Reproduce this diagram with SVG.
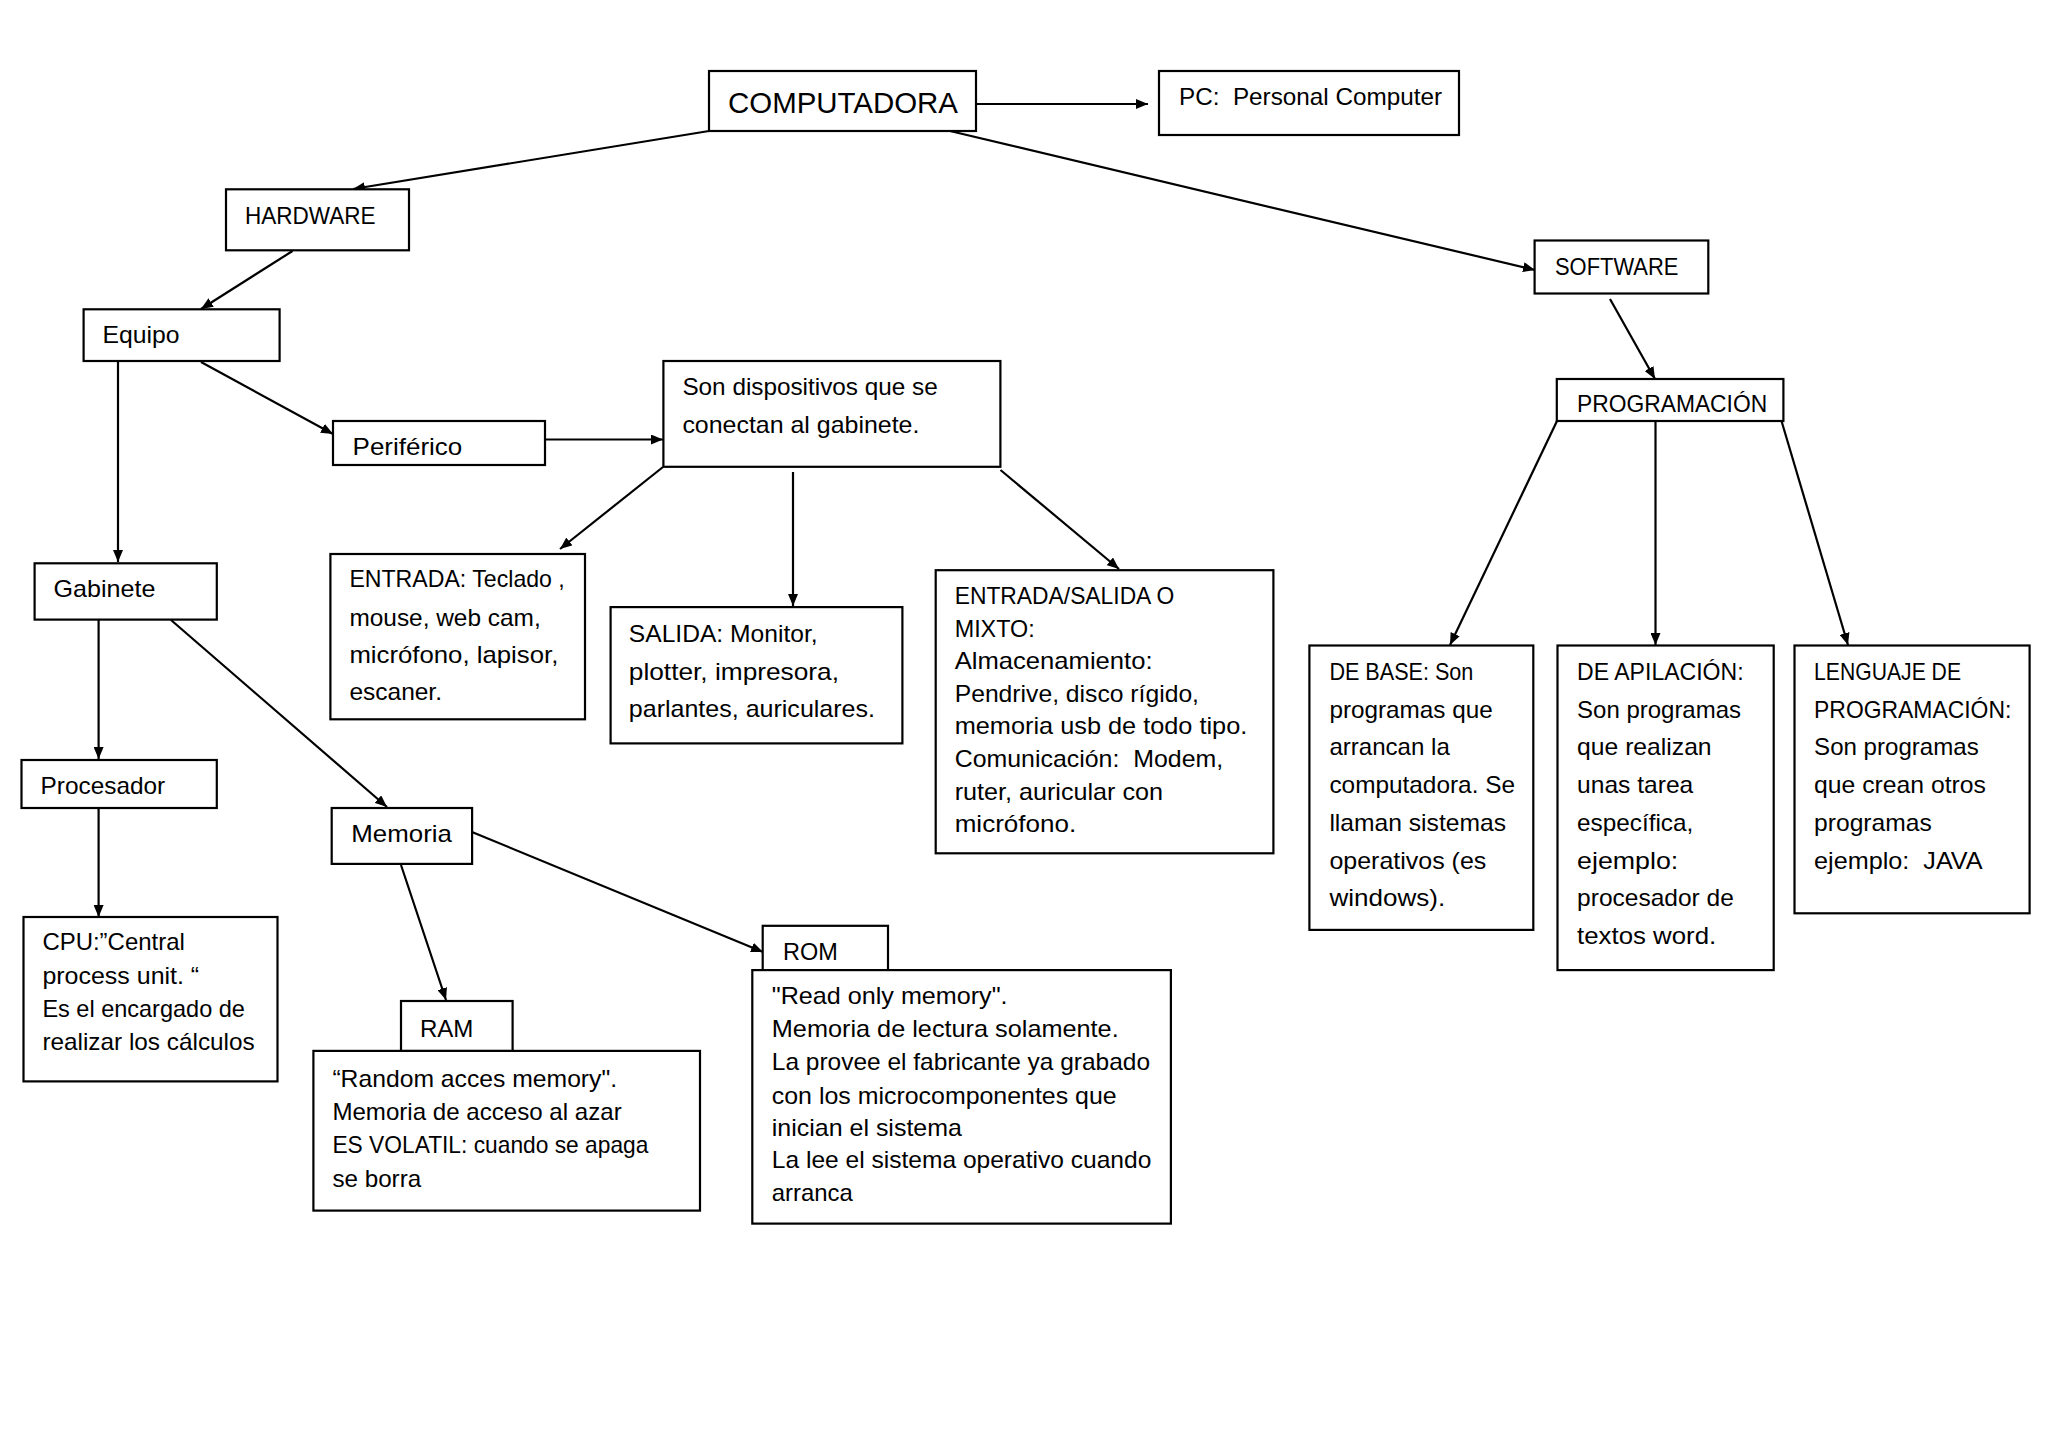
<svg xmlns="http://www.w3.org/2000/svg" width="2048" height="1448" viewBox="0 0 2048 1448">
<style>
.b{fill:#fff;stroke:#000;stroke-width:2.2}
.c{fill:none;stroke:#000;stroke-width:2.2;marker-end:url(#ah)}
text{font-family:"Liberation Sans",Arial,sans-serif;font-size:24px;fill:#000;white-space:pre}
.big{font-size:30px}
</style>
<defs>
<marker id="ah" markerUnits="userSpaceOnUse" markerWidth="12" markerHeight="10" refX="12" refY="5" orient="auto"><path d="M0,0 L12,5 L0,10 z" fill="#000"/></marker>
</defs>
<rect width="2048" height="1448" fill="#fff"/>
<g id="connectors">
<line class="c" x1="976" y1="104" x2="1148" y2="104"/>
<line class="c" x1="709" y1="131" x2="353" y2="189"/>
<line class="c" x1="950" y1="131" x2="1535" y2="270"/>
<line class="c" x1="292.5" y1="251" x2="201" y2="309"/>
<line class="c" x1="201" y1="362" x2="333" y2="434"/>
<line class="c" x1="545" y1="439.5" x2="663" y2="439.5"/>
<line class="c" x1="118" y1="362" x2="118" y2="562"/>
<line class="c" x1="663" y1="467" x2="560" y2="549"/>
<line class="c" x1="793" y1="472" x2="793" y2="606"/>
<line class="c" x1="1000.5" y1="470" x2="1119" y2="569"/>
<line class="c" x1="1610" y1="299" x2="1655" y2="379"/>
<line class="c" x1="1557" y1="421" x2="1450" y2="645"/>
<line class="c" x1="1655.5" y1="421" x2="1655.5" y2="645"/>
<line class="c" x1="1781.5" y1="421" x2="1848" y2="645"/>
<line class="c" x1="98.6" y1="620" x2="98.6" y2="759"/>
<line class="c" x1="171" y1="620" x2="387" y2="807"/>
<line class="c" x1="98.6" y1="808" x2="98.6" y2="917"/>
<line class="c" x1="401" y1="865" x2="446" y2="1000"/>
<line class="c" x1="472" y1="832" x2="763" y2="952"/>
</g>
<g id="computadora"><rect class="b" x="709" y="71" width="267" height="60"/><text class="big" x="728" y="113" textLength="230" lengthAdjust="spacingAndGlyphs">COMPUTADORA</text></g>
<g id="pc"><rect class="b" x="1159" y="71" width="300" height="64"/><text x="1179" y="105.3" textLength="263" lengthAdjust="spacingAndGlyphs">PC:&#160; Personal Computer</text></g>
<g id="hardware"><rect class="b" x="226" y="189.3" width="183" height="61"/><text x="245" y="224" textLength="130.5" lengthAdjust="spacingAndGlyphs">HARDWARE</text></g>
<g id="software"><rect class="b" x="1534.6" y="240.5" width="173.7" height="53"/><text x="1555" y="274.7" textLength="123.4" lengthAdjust="spacingAndGlyphs">SOFTWARE</text></g>
<g id="equipo"><rect class="b" x="83.6" y="309.3" width="196" height="51.7"/><text x="102.5" y="342.6" textLength="77" lengthAdjust="spacingAndGlyphs">Equipo</text></g>
<g id="periferico"><rect class="b" x="333" y="421" width="212" height="44"/><text x="352.6" y="454.8" textLength="109.7" lengthAdjust="spacingAndGlyphs">Periférico</text></g>
<g id="dispositivos"><rect class="b" x="663.4" y="361" width="337" height="105.8"/>
<text x="682.4" y="394.7" textLength="255.3" lengthAdjust="spacingAndGlyphs">Son dispositivos que se</text>
<text x="682.4" y="433" textLength="237" lengthAdjust="spacingAndGlyphs">conectan al gabinete.</text></g>
<g id="programacion"><rect class="b" x="1556.8" y="379" width="226.6" height="42"/><text x="1577.1" y="412.3" textLength="190" lengthAdjust="spacingAndGlyphs">PROGRAMACIÓN</text></g>
<g id="gabinete"><rect class="b" x="34.6" y="563.3" width="182.2" height="56.3"/><text x="53.5" y="596.5" textLength="101.9" lengthAdjust="spacingAndGlyphs">Gabinete</text></g>
<g id="entrada"><rect class="b" x="330.4" y="554" width="254.6" height="165.3"/>
<text x="349.4" y="587.3" textLength="215.4" lengthAdjust="spacingAndGlyphs">ENTRADA: Teclado ,</text>
<text x="349.4" y="625.6" textLength="191.3" lengthAdjust="spacingAndGlyphs">mouse, web cam,</text>
<text x="349.4" y="663" textLength="208.9" lengthAdjust="spacingAndGlyphs">micrófono, lapisor,</text>
<text x="349.4" y="700" textLength="92.6" lengthAdjust="spacingAndGlyphs">escaner.</text></g>
<g id="salida"><rect class="b" x="610.6" y="607.1" width="291.8" height="136.3"/>
<text x="628.8" y="641.8" textLength="188.8" lengthAdjust="spacingAndGlyphs">SALIDA: Monitor,</text>
<text x="628.8" y="679.6" textLength="210.2" lengthAdjust="spacingAndGlyphs">plotter, impresora,</text>
<text x="628.8" y="717" textLength="246.2" lengthAdjust="spacingAndGlyphs">parlantes, auriculares.</text></g>
<g id="mixto"><rect class="b" x="935.7" y="570.2" width="337.7" height="283.1"/>
<text x="954.7" y="603.9" textLength="219.5" lengthAdjust="spacingAndGlyphs">ENTRADA/SALIDA O</text>
<text x="954.7" y="636.5" textLength="80" lengthAdjust="spacingAndGlyphs">MIXTO:</text>
<text x="954.7" y="669.1" textLength="197.9" lengthAdjust="spacingAndGlyphs">Almacenamiento:</text>
<text x="954.7" y="701.7" textLength="244.3" lengthAdjust="spacingAndGlyphs">Pendrive, disco rígido,</text>
<text x="954.7" y="734.3" textLength="292.6" lengthAdjust="spacingAndGlyphs">memoria usb de todo tipo.</text>
<text x="954.7" y="766.9" textLength="268.5" lengthAdjust="spacingAndGlyphs">Comunicación:&#160; Modem,</text>
<text x="954.7" y="799.5" textLength="208.3" lengthAdjust="spacingAndGlyphs">ruter, auricular con</text>
<text x="954.7" y="832.1" textLength="121.5" lengthAdjust="spacingAndGlyphs">micrófono.</text></g>
<g id="debase"><rect class="b" x="1309.4" y="645.5" width="223.9" height="284.4"/>
<text x="1329.4" y="680" textLength="143.9" lengthAdjust="spacingAndGlyphs">DE BASE: Son</text>
<text x="1329.4" y="717.7" textLength="163.4" lengthAdjust="spacingAndGlyphs">programas que</text>
<text x="1329.4" y="755.4" textLength="120.4" lengthAdjust="spacingAndGlyphs">arrancan la</text>
<text x="1329.4" y="793.1" textLength="185.6" lengthAdjust="spacingAndGlyphs">computadora. Se</text>
<text x="1329.4" y="830.8" textLength="176.6" lengthAdjust="spacingAndGlyphs">llaman sistemas</text>
<text x="1329.4" y="868.5" textLength="156.9" lengthAdjust="spacingAndGlyphs">operativos (es</text>
<text x="1329.4" y="906.2" textLength="115.8" lengthAdjust="spacingAndGlyphs">windows).</text></g>
<g id="apilacion"><rect class="b" x="1557.5" y="645.5" width="216.2" height="324.6"/>
<text x="1577.1" y="680" textLength="166.5" lengthAdjust="spacingAndGlyphs">DE APILACIÓN:</text>
<text x="1577.1" y="717.7" textLength="163.9" lengthAdjust="spacingAndGlyphs">Son programas</text>
<text x="1577.1" y="755.4" textLength="134.5" lengthAdjust="spacingAndGlyphs">que realizan</text>
<text x="1577.1" y="793.1" textLength="116.2" lengthAdjust="spacingAndGlyphs">unas tarea</text>
<text x="1577.1" y="830.8" textLength="116.2" lengthAdjust="spacingAndGlyphs">específica,</text>
<text x="1577.1" y="868.5" textLength="101.2" lengthAdjust="spacingAndGlyphs">ejemplo:</text>
<text x="1577.1" y="906.2" textLength="156.7" lengthAdjust="spacingAndGlyphs">procesador de</text>
<text x="1577.1" y="943.9" textLength="139.1" lengthAdjust="spacingAndGlyphs">textos word.</text></g>
<g id="lenguaje"><rect class="b" x="1794.5" y="645.5" width="235.1" height="267.8"/>
<text x="1814.1" y="680" textLength="146.9" lengthAdjust="spacingAndGlyphs">LENGUAJE DE</text>
<text x="1814.1" y="717.7" textLength="197.2" lengthAdjust="spacingAndGlyphs">PROGRAMACIÓN:</text>
<text x="1814.1" y="755.4" textLength="164.6" lengthAdjust="spacingAndGlyphs">Son programas</text>
<text x="1814.1" y="793.1" textLength="171.9" lengthAdjust="spacingAndGlyphs">que crean otros</text>
<text x="1814.1" y="830.8" textLength="117.6" lengthAdjust="spacingAndGlyphs">programas</text>
<text x="1814.1" y="868.5" textLength="168.5" lengthAdjust="spacingAndGlyphs">ejemplo:&#160; JAVA</text></g>
<g id="procesador"><rect class="b" x="21.5" y="760" width="195.3" height="48"/><text x="40.5" y="794.2" textLength="124.7" lengthAdjust="spacingAndGlyphs">Procesador</text></g>
<g id="memoria"><rect class="b" x="331.7" y="808" width="140.4" height="55.9"/><text x="351.3" y="841.7" textLength="100.6" lengthAdjust="spacingAndGlyphs">Memoria</text></g>
<g id="cpu"><rect class="b" x="23.5" y="917" width="254" height="164.4"/>
<text x="42.4" y="950.2" textLength="142.4" lengthAdjust="spacingAndGlyphs">CPU:”Central</text>
<text x="42.4" y="983.5" textLength="156.8" lengthAdjust="spacingAndGlyphs">process unit. “</text>
<text x="42.4" y="1017.2" textLength="202.5" lengthAdjust="spacingAndGlyphs">Es el encargado de</text>
<text x="42.4" y="1049.5" textLength="212.3" lengthAdjust="spacingAndGlyphs">realizar los cálculos</text></g>
<g id="ram"><rect class="b" x="401" y="1001" width="111.6" height="50"/><text x="419.9" y="1036.6" textLength="53.5" lengthAdjust="spacingAndGlyphs">RAM</text></g>
<g id="ram-info"><rect class="b" x="313.4" y="1050.9" width="386.6" height="159.7"/>
<text x="332.4" y="1087.4" textLength="284.7" lengthAdjust="spacingAndGlyphs">“Random acces memory".</text>
<text x="332.4" y="1119.7" textLength="289.3" lengthAdjust="spacingAndGlyphs">Memoria de acceso al azar</text>
<text x="332.4" y="1152.5" textLength="316" lengthAdjust="spacingAndGlyphs">ES VOLATIL: cuando se apaga</text>
<text x="332.4" y="1186.6" textLength="88.8" lengthAdjust="spacingAndGlyphs">se borra</text></g>
<g id="rom"><rect class="b" x="762.7" y="925.8" width="125.3" height="44.3"/><text x="783" y="960.4" textLength="54.8" lengthAdjust="spacingAndGlyphs">ROM</text></g>
<g id="rom-info"><rect class="b" x="752.3" y="970.1" width="418.6" height="253.5"/>
<text x="771.8" y="1003.8" textLength="235.8" lengthAdjust="spacingAndGlyphs">"Read only memory".</text>
<text x="771.8" y="1037" textLength="346.9" lengthAdjust="spacingAndGlyphs">Memoria de lectura solamente.</text>
<text x="771.8" y="1070.3" textLength="378.2" lengthAdjust="spacingAndGlyphs">La provee el fabricante ya grabado</text>
<text x="771.8" y="1103.5" textLength="344.9" lengthAdjust="spacingAndGlyphs">con los microcomponentes que</text>
<text x="771.8" y="1135.5" textLength="190.1" lengthAdjust="spacingAndGlyphs">inician el sistema</text>
<text x="771.8" y="1168.2" textLength="379.5" lengthAdjust="spacingAndGlyphs">La lee el sistema operativo cuando</text>
<text x="771.8" y="1201" textLength="81" lengthAdjust="spacingAndGlyphs">arranca</text></g>
</svg>
